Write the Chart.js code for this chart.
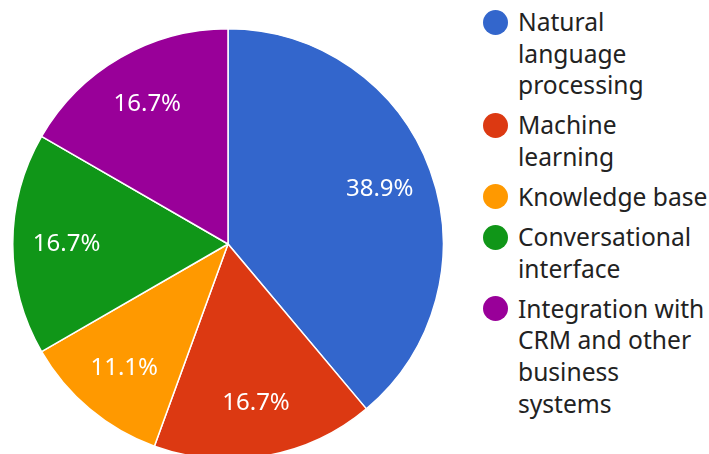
<!DOCTYPE html>
<html>
<head>
<meta charset="utf-8">
<script src="https://cdn.jsdelivr.net/npm/chart.js@4.4.1/dist/chart.umd.min.js"></script>
<style>
    html, body { margin: 0; padding: 0; background: #fff; overflow: hidden; }
    body { width: 709px; height: 454px; position: relative; font-family: "Noto Sans", sans-serif; }
    #pieBox { position: absolute; left: 12px; top: 28px; width: 432px; height: 432px; }
    #legend { position: absolute; left: 483px; top: 6px; width: 226px; }
    .item { display: flex; align-items: flex-start; margin-bottom: 8.5px; }
    .dot { width: 25px; height: 25px; border-radius: 50%; margin-top: 3.5px; flex: none; }
    .text { margin-left: 10px; width: 192px; font-size: 24.6px; line-height: 31.6px; color: #222; }
</style>
</head>
<body>
<div id="pieBox"><canvas id="pie"></canvas></div>
<div id="legend"></div>
<script>
const categories = [
    'Natural language processing',
    'Machine learning',
    'Knowledge base',
    'Conversational interface',
    'Integration with CRM and other business systems'
];
const responses = [7, 3, 2, 3, 3];
const colors = ['#3366cc', '#dc3912', '#ff9900', '#109618', '#990099'];

// percentage labels inside the slices
const sliceLabels = {
    id: 'sliceLabels',
    afterDatasetsDraw(chart) {
        const { ctx } = chart;
        const meta = chart.getDatasetMeta(0);
        const values = chart.data.datasets[0].data;
        const total = values.reduce((a, b) => a + b, 0);
        ctx.save();
        ctx.font = '24px "Noto Sans"';
        ctx.fillStyle = '#fff';
        ctx.textAlign = 'center';
        ctx.textBaseline = 'middle';
        meta.data.forEach((arc, i) => {
            const { x, y, startAngle, endAngle, outerRadius } = arc.getProps(['x', 'y', 'startAngle', 'endAngle', 'outerRadius'], true);
            const mid = (startAngle + endAngle) / 2;
            const r = outerRadius * 0.75;
            const text = (values[i] / total * 100).toFixed(1) + '%';
            ctx.fillText(text, x + Math.cos(mid) * r, y + Math.sin(mid) * r);
        });
        ctx.restore();
    }
};

new Chart(document.getElementById('pie').getContext('2d'), {
    type: 'pie',
    data: {
        labels: categories,
        datasets: [{
            data: responses,
            backgroundColor: colors,
            borderColor: '#fff',
            borderWidth: 1.5
        }]
    },
    options: {
        responsive: true,
        maintainAspectRatio: false,
        devicePixelRatio: 1,
        animation: false,
        layout: { padding: 0 },
        plugins: {
            legend: { display: false },
            tooltip: { enabled: false }
        }
    },
    plugins: [sliceLabels]
});

const legend = document.getElementById('legend');
categories.forEach((name, i) => {
    const item = document.createElement('div');
    item.className = 'item';
    item.innerHTML = `<div class="dot" style="background:${colors[i]}"></div><div class="text">${name}</div>`;
    legend.appendChild(item);
});
</script>
</body>
</html>
